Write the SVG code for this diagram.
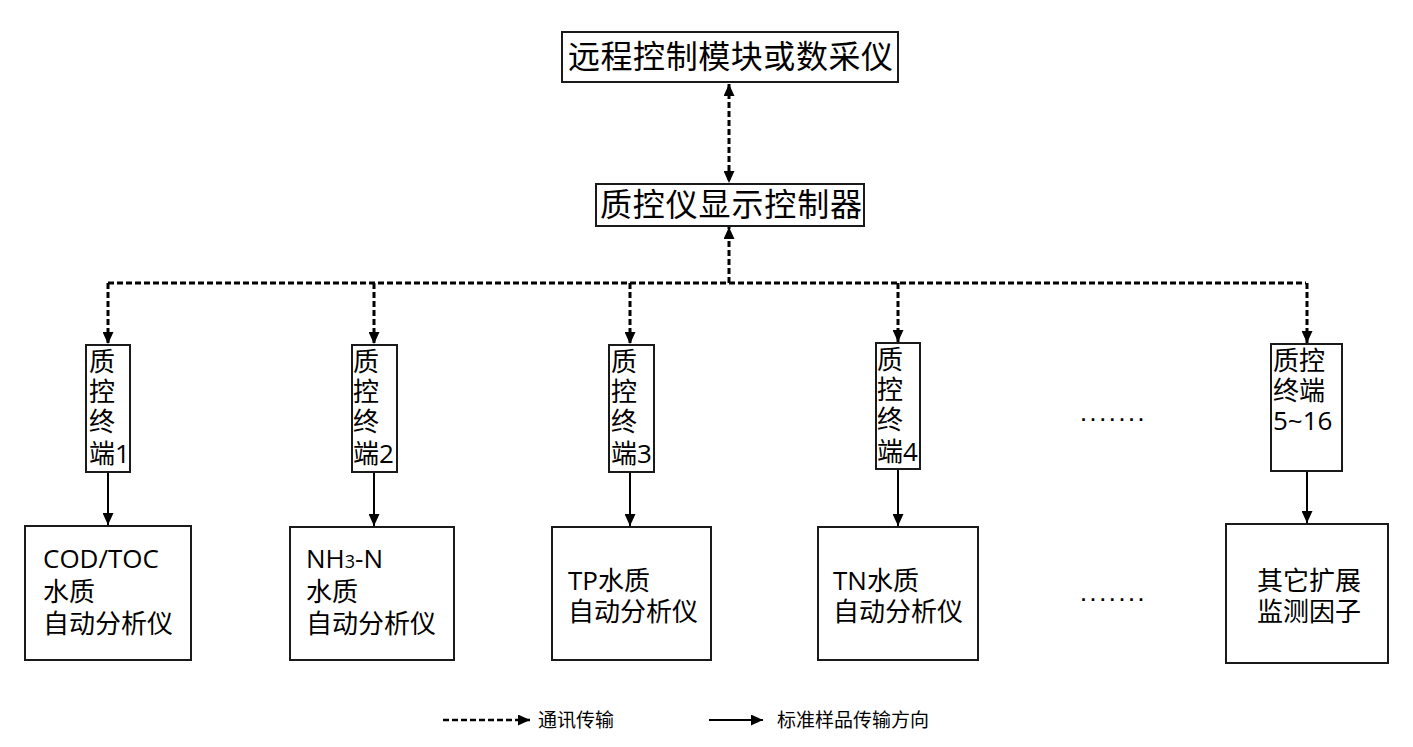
<svg xmlns="http://www.w3.org/2000/svg" width="1413" height="747" viewBox="0 0 1413 747">
<style>
.box{fill:#fff;stroke:#1a1a1a;stroke-width:2}
.t{font-family:"Open Sans","Noto Sans CJK SC",sans-serif;fill:#000}
.big{font-size:32px}
.m{font-size:26px}
.s{font-size:19px}
.dots{font-family:"Liberation Sans",sans-serif;font-size:18px;font-weight:bold;letter-spacing:4.6px;fill:#000}
.dash{fill:none;stroke:#000;stroke-width:3;stroke-dasharray:6 3}
.dashl{fill:none;stroke:#000;stroke-width:2.5;stroke-dasharray:6 3}
.solid{fill:none;stroke:#000;stroke-width:2}
</style>
<defs>
<marker id="ah" markerUnits="userSpaceOnUse" markerWidth="12" markerHeight="11" refX="12" refY="5.5" orient="auto-start-reverse">
<path d="M0,0 L12,5.5 L0,11 z" fill="#000"/>
</marker>
</defs>
<rect width="1413" height="747" fill="#fff"/>

<g id="connectors">
<line class="dash" x1="729" y1="84" x2="729" y2="183" marker-start="url(#ah)" marker-end="url(#ah)"/>
<line class="dash" x1="729" y1="283" x2="729" y2="227" marker-end="url(#ah)"/>
<path class="dash" d="M108,283 H1306"/>
<line class="dash" x1="108" y1="283" x2="108" y2="344" marker-end="url(#ah)"/>
<line class="dash" x1="374" y1="283" x2="374" y2="344" marker-end="url(#ah)"/>
<line class="dash" x1="630" y1="283" x2="630" y2="344" marker-end="url(#ah)"/>
<line class="dash" x1="898" y1="283" x2="898" y2="342" marker-end="url(#ah)"/>
<line class="dash" x1="1307" y1="283" x2="1307" y2="343" marker-end="url(#ah)"/>
<line class="solid" x1="108" y1="472" x2="108" y2="525" marker-end="url(#ah)"/>
<line class="solid" x1="374" y1="472" x2="374" y2="526" marker-end="url(#ah)"/>
<line class="solid" x1="630" y1="472" x2="630" y2="526" marker-end="url(#ah)"/>
<line class="solid" x1="898" y1="469" x2="898" y2="526" marker-end="url(#ah)"/>
<line class="solid" x1="1307" y1="471" x2="1307" y2="523" marker-end="url(#ah)"/>
</g>

<g id="remote">
<rect class="box" x="562" y="32" width="336" height="50"/>
<text class="t big" x="568" y="68" textLength="325" lengthAdjust="spacing">远程控制模块或数采仪</text>
</g>
<g id="controller">
<rect class="box" x="596" y="184" width="268" height="42"/>
<text class="t big" x="600" y="216" textLength="262" lengthAdjust="spacing">质控仪显示控制器</text>
</g>

<g id="term1">
<rect class="box" x="86" y="345" width="44" height="127"/>
<text class="t m"><tspan x="89" y="371">质</tspan><tspan x="89" y="401">控</tspan><tspan x="89" y="431">终</tspan><tspan x="89" y="463">端1</tspan></text>
</g>
<g id="term2">
<rect class="box" x="352" y="345" width="45" height="127"/>
<text class="t m"><tspan x="353" y="371">质</tspan><tspan x="353" y="401">控</tspan><tspan x="353" y="431">终</tspan><tspan x="353" y="463">端2</tspan></text>
</g>
<g id="term3">
<rect class="box" x="609" y="345" width="45" height="127"/>
<text class="t m"><tspan x="611" y="371">质</tspan><tspan x="611" y="401">控</tspan><tspan x="611" y="431">终</tspan><tspan x="611" y="463">端3</tspan></text>
</g>
<g id="term4">
<rect class="box" x="876" y="343" width="44" height="126"/>
<text class="t m"><tspan x="877" y="369">质</tspan><tspan x="877" y="399">控</tspan><tspan x="877" y="429">终</tspan><tspan x="877" y="461">端4</tspan></text>
</g>
<g id="term5">
<rect class="box" x="1271" y="344" width="71" height="127"/>
<text class="t m"><tspan x="1273" y="370">质控</tspan><tspan x="1273" y="400">终端</tspan><tspan x="1273" y="430">5~16</tspan></text>
</g>

<g id="ana1">
<rect class="box" x="25" y="526" width="166" height="134"/>
<text class="t m"><tspan x="43" y="568">COD/TOC</tspan><tspan x="43" y="601">水质</tspan><tspan x="43" y="633">自动分析仪</tspan></text>
</g>
<g id="ana2">
<rect class="box" x="290" y="527" width="164" height="133"/>
<text class="t m"><tspan x="306" y="568">NH<tspan font-size="18">3</tspan>-N</tspan><tspan x="306" y="601">水质</tspan><tspan x="306" y="633">自动分析仪</tspan></text>
</g>
<g id="ana3">
<rect class="box" x="552" y="527" width="159" height="133"/>
<text class="t m"><tspan x="568" y="590">TP水质</tspan><tspan x="568" y="621">自动分析仪</tspan></text>
</g>
<g id="ana4">
<rect class="box" x="818" y="527" width="160" height="133"/>
<text class="t m"><tspan x="833" y="590">TN水质</tspan><tspan x="833" y="621">自动分析仪</tspan></text>
</g>
<g id="ana5">
<rect class="box" x="1226" y="524" width="162" height="139"/>
<text class="t m"><tspan x="1257" y="590">其它扩展</tspan><tspan x="1257" y="621">监测因子</tspan></text>
</g>

<g id="ellipsis">
<text class="dots" x="1081" y="421">.......</text>
<text class="dots" x="1081" y="601">.......</text>
</g>

<g id="legend">
<line class="dashl" x1="443" y1="720" x2="530" y2="720" marker-end="url(#ah)"/>
<text class="t s" x="538" y="727">通讯传输</text>
<line class="solid" x1="709" y1="720" x2="763" y2="720" marker-end="url(#ah)"/>
<text class="t s" x="777" y="727">标准样品传输方向</text>
</g>
</svg>
